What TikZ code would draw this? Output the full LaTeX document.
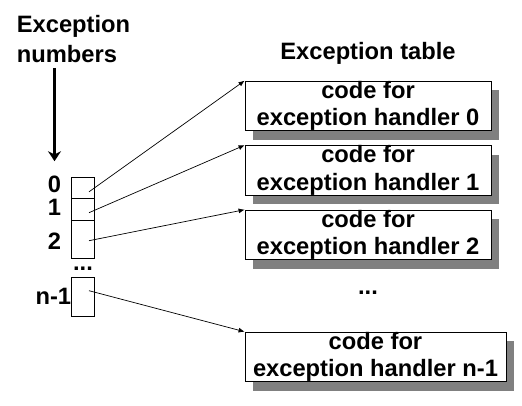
\documentclass[tikz,border=0pt]{standalone}
\usepackage{fontspec}
\setmainfont{Liberation Sans}
\usetikzlibrary{arrows.meta,positioning,shadows}

\begin{document}
\begin{tikzpicture}[x=1pt, y=1pt, node distance=64.5pt, on grid, every node/.style={font=\bfseries\fontsize{23.7}{27.7}\selectfont, inner sep=0pt}, handler/.style={draw, line width=0.8pt, fill=white, align=center, minimum width=246pt, minimum height=49pt, inner xsep=8pt, drop shadow={shadow xshift=8pt, shadow yshift=-9pt, fill=black!50, opacity=1}}, cell/.style={draw, line width=0.8pt, minimum width=22.6pt}, ptr/.style={-{Latex[length=6pt,width=5pt]}, line width=0.7pt}, bigarrow/.style={-{Stealth[length=10pt,width=13pt]}, line width=3pt}]
\useasboundingbox (0,0) rectangle (522,406);
\node[handler] (H0) at (368,300) {code for\\exception handler 0};
\node[handler, below of=H0] (H1) {code for\\exception handler 1};
\node[handler, below of=H1] (H2) {code for\\exception handler 2};
\node[below=58pt of H2] (D2) {...};
\node[handler, below=122pt of H2.west, anchor=west] (Hn) {code for\\exception handler n-1};
\node[above=53pt of H0] (T) {Exception table};

\node[cell, minimum height=21pt] (C0) at (83,218.2) {};
\node[cell, minimum height=21.7pt, below=21.4pt of C0] (C1) {};
\node[cell, minimum height=38.3pt, below=30pt of C1] (C2) {};
\node[below=29.8pt of C2] (D1) {...};
\node[cell, minimum height=38.7pt, below=57.5pt of C2] (Cn) {};

\node[left=10pt of C0.west, anchor=east, yshift=3pt] (L0) {0};
\node[left=10pt of C1.west, anchor=east, yshift=1.7pt] (L1) {1};
\node[left=10pt of C2.west, anchor=east, yshift=-1.8pt] (L2) {2};
\node[left=0pt of Cn.west, anchor=east] (Ln) {n-1};

\node[anchor=north west, align=left, font=\bfseries\fontsize{23.7}{30}\selectfont] (N) at (16.7,391.3) {Exception\\numbers};
\coordinate (A0) at ([yshift=-5.3pt]L0.north |- N.south);
\draw[bigarrow] (A0) -- ([yshift=15pt]L0.north);

\path[ptr] ([shift={(6pt,-4pt)}]C0.center) edge (H0.north west);
\path[ptr] ([shift={(6pt,-3.5pt)}]C1.center) edge (H1.north west);
\path[ptr] ([shift={(6pt,-1.5pt)}]C2.center) edge (H2.north west);
\path[ptr] ([shift={(6pt,6pt)}]Cn.center) edge (Hn.north west);
\end{tikzpicture}
\end{document}
